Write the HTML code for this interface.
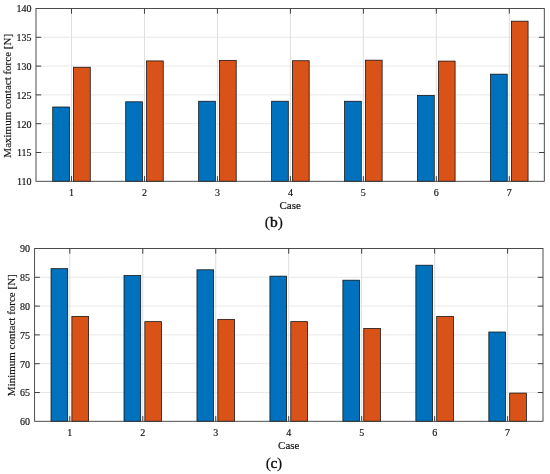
<!DOCTYPE html>
<html><head><meta charset="utf-8"><title>Contact force</title>
<style>
html,body{margin:0;padding:0;background:#fff;}
svg{display:block;}
text{font-family:"Liberation Serif","Times New Roman",serif;fill:#161616;stroke:#161616;stroke-width:0.18px;}
.t{font-size:10px;}
.l{font-size:11px;}
.c{font-size:15.5px;fill:#111;}
.c tspan{stroke:#111;stroke-width:0.45px;}
</style></head>
<body>
<svg width="550" height="474" viewBox="0 0 550 474">
<rect width="550" height="474" fill="#fff"/>
<path d="M71.50 8.50V181.30M144.47 8.50V181.30M217.43 8.50V181.30M290.40 8.50V181.30M363.37 8.50V181.30M436.33 8.50V181.30M509.30 8.50V181.30" stroke="#d6d6d6" stroke-width="0.8" fill="none"/>
<path d="M36.00 152.50H544.30M36.00 123.70H544.30M36.00 94.90H544.30M36.00 66.10H544.30M36.00 37.30H544.30" stroke="#e2e2e2" stroke-width="0.8" fill="none"/>
<rect x="52.73" y="107.00" width="16.68" height="74.30" fill="#0072bd" stroke="#0d0d0d" stroke-width="0.75"/>
<rect x="73.59" y="67.25" width="16.68" height="114.05" fill="#d95319" stroke="#0d0d0d" stroke-width="0.75"/>
<rect x="125.70" y="101.81" width="16.68" height="79.49" fill="#0072bd" stroke="#0d0d0d" stroke-width="0.75"/>
<rect x="146.55" y="60.92" width="16.68" height="120.38" fill="#d95319" stroke="#0d0d0d" stroke-width="0.75"/>
<rect x="198.67" y="101.24" width="16.68" height="80.06" fill="#0072bd" stroke="#0d0d0d" stroke-width="0.75"/>
<rect x="219.52" y="60.34" width="16.68" height="120.96" fill="#d95319" stroke="#0d0d0d" stroke-width="0.75"/>
<rect x="271.63" y="101.24" width="16.68" height="80.06" fill="#0072bd" stroke="#0d0d0d" stroke-width="0.75"/>
<rect x="292.49" y="60.74" width="16.68" height="120.56" fill="#d95319" stroke="#0d0d0d" stroke-width="0.75"/>
<rect x="344.60" y="101.24" width="16.68" height="80.06" fill="#0072bd" stroke="#0d0d0d" stroke-width="0.75"/>
<rect x="365.45" y="60.17" width="16.68" height="121.13" fill="#d95319" stroke="#0d0d0d" stroke-width="0.75"/>
<rect x="417.57" y="95.48" width="16.68" height="85.82" fill="#0072bd" stroke="#0d0d0d" stroke-width="0.75"/>
<rect x="438.42" y="61.09" width="16.68" height="120.21" fill="#d95319" stroke="#0d0d0d" stroke-width="0.75"/>
<rect x="490.53" y="74.16" width="16.68" height="107.14" fill="#0072bd" stroke="#0d0d0d" stroke-width="0.75"/>
<rect x="511.39" y="21.17" width="16.68" height="160.13" fill="#d95319" stroke="#0d0d0d" stroke-width="0.75"/>
<path d="M71.50 181.30v-5.2M71.50 8.50v5.2M144.47 181.30v-5.2M144.47 8.50v5.2M217.43 181.30v-5.2M217.43 8.50v5.2M290.40 181.30v-5.2M290.40 8.50v5.2M363.37 181.30v-5.2M363.37 8.50v5.2M436.33 181.30v-5.2M436.33 8.50v5.2M509.30 181.30v-5.2M509.30 8.50v5.2M36.00 152.50h5.2M544.30 152.50h-5.2M36.00 123.70h5.2M544.30 123.70h-5.2M36.00 94.90h5.2M544.30 94.90h-5.2M36.00 66.10h5.2M544.30 66.10h-5.2M36.00 37.30h5.2M544.30 37.30h-5.2" stroke="#222" stroke-width="0.85" fill="none"/>
<rect x="36.00" y="8.50" width="508.30" height="172.80" fill="none" stroke="#3a3a3a" stroke-width="0.9"/>
<text class="t" text-anchor="end" x="31.60" y="185.20">110</text>
<text class="t" text-anchor="end" x="31.60" y="156.40">115</text>
<text class="t" text-anchor="end" x="31.60" y="127.60">120</text>
<text class="t" text-anchor="end" x="31.60" y="98.80">125</text>
<text class="t" text-anchor="end" x="31.60" y="70.00">130</text>
<text class="t" text-anchor="end" x="31.60" y="41.20">135</text>
<text class="t" text-anchor="end" x="31.60" y="12.40">140</text>
<text class="t" text-anchor="middle" x="71.50" y="195.60">1</text>
<text class="t" text-anchor="middle" x="144.47" y="195.60">2</text>
<text class="t" text-anchor="middle" x="217.43" y="195.60">3</text>
<text class="t" text-anchor="middle" x="290.40" y="195.60">4</text>
<text class="t" text-anchor="middle" x="363.37" y="195.60">5</text>
<text class="t" text-anchor="middle" x="436.33" y="195.60">6</text>
<text class="t" text-anchor="middle" x="509.30" y="195.60">7</text>
<text class="l" text-anchor="middle" x="290.15" y="208.80">Case</text>
<text class="l" text-anchor="middle" transform="translate(11.30 95.80) rotate(-90)">Maximum contact force [N]</text>
<text class="c" text-anchor="middle" x="273.8" y="227.3">(<tspan>b</tspan>)</text>
<path d="M69.80 248.50V421.30M142.77 248.50V421.30M215.73 248.50V421.30M288.70 248.50V421.30M361.67 248.50V421.30M434.63 248.50V421.30M507.60 248.50V421.30" stroke="#d6d6d6" stroke-width="0.8" fill="none"/>
<path d="M34.60 392.50H543.00M34.60 363.70H543.00M34.60 334.90H543.00M34.60 306.10H543.00M34.60 277.30H543.00" stroke="#e2e2e2" stroke-width="0.8" fill="none"/>
<rect x="51.03" y="268.66" width="16.68" height="152.64" fill="#0072bd" stroke="#0d0d0d" stroke-width="0.75"/>
<rect x="71.89" y="316.47" width="16.68" height="104.83" fill="#d95319" stroke="#0d0d0d" stroke-width="0.75"/>
<rect x="124.00" y="275.57" width="16.68" height="145.73" fill="#0072bd" stroke="#0d0d0d" stroke-width="0.75"/>
<rect x="144.85" y="321.65" width="16.68" height="99.65" fill="#d95319" stroke="#0d0d0d" stroke-width="0.75"/>
<rect x="196.97" y="269.81" width="16.68" height="151.49" fill="#0072bd" stroke="#0d0d0d" stroke-width="0.75"/>
<rect x="217.82" y="319.35" width="16.68" height="101.95" fill="#d95319" stroke="#0d0d0d" stroke-width="0.75"/>
<rect x="269.93" y="276.15" width="16.68" height="145.15" fill="#0072bd" stroke="#0d0d0d" stroke-width="0.75"/>
<rect x="290.79" y="321.65" width="16.68" height="99.65" fill="#d95319" stroke="#0d0d0d" stroke-width="0.75"/>
<rect x="342.90" y="280.18" width="16.68" height="141.12" fill="#0072bd" stroke="#0d0d0d" stroke-width="0.75"/>
<rect x="363.75" y="328.45" width="16.68" height="92.85" fill="#d95319" stroke="#0d0d0d" stroke-width="0.75"/>
<rect x="415.87" y="265.20" width="16.68" height="156.10" fill="#0072bd" stroke="#0d0d0d" stroke-width="0.75"/>
<rect x="436.72" y="316.47" width="16.68" height="104.83" fill="#d95319" stroke="#0d0d0d" stroke-width="0.75"/>
<rect x="488.83" y="332.02" width="16.68" height="89.28" fill="#0072bd" stroke="#0d0d0d" stroke-width="0.75"/>
<rect x="509.69" y="393.08" width="16.68" height="28.22" fill="#d95319" stroke="#0d0d0d" stroke-width="0.75"/>
<path d="M69.80 421.30v-5.2M69.80 248.50v5.2M142.77 421.30v-5.2M142.77 248.50v5.2M215.73 421.30v-5.2M215.73 248.50v5.2M288.70 421.30v-5.2M288.70 248.50v5.2M361.67 421.30v-5.2M361.67 248.50v5.2M434.63 421.30v-5.2M434.63 248.50v5.2M507.60 421.30v-5.2M507.60 248.50v5.2M34.60 392.50h5.2M543.00 392.50h-5.2M34.60 363.70h5.2M543.00 363.70h-5.2M34.60 334.90h5.2M543.00 334.90h-5.2M34.60 306.10h5.2M543.00 306.10h-5.2M34.60 277.30h5.2M543.00 277.30h-5.2" stroke="#222" stroke-width="0.85" fill="none"/>
<rect x="34.60" y="248.50" width="508.40" height="172.80" fill="none" stroke="#3a3a3a" stroke-width="0.9"/>
<text class="t" text-anchor="end" x="29.90" y="425.10">60</text>
<text class="t" text-anchor="end" x="29.90" y="396.30">65</text>
<text class="t" text-anchor="end" x="29.90" y="367.50">70</text>
<text class="t" text-anchor="end" x="29.90" y="338.70">75</text>
<text class="t" text-anchor="end" x="29.90" y="309.90">80</text>
<text class="t" text-anchor="end" x="29.90" y="281.10">85</text>
<text class="t" text-anchor="end" x="29.90" y="252.30">90</text>
<text class="t" text-anchor="middle" x="69.80" y="435.60">1</text>
<text class="t" text-anchor="middle" x="142.77" y="435.60">2</text>
<text class="t" text-anchor="middle" x="215.73" y="435.60">3</text>
<text class="t" text-anchor="middle" x="288.70" y="435.60">4</text>
<text class="t" text-anchor="middle" x="361.67" y="435.60">5</text>
<text class="t" text-anchor="middle" x="434.63" y="435.60">6</text>
<text class="t" text-anchor="middle" x="507.60" y="435.60">7</text>
<text class="l" text-anchor="middle" x="288.80" y="448.80">Case</text>
<text class="l" text-anchor="middle" transform="translate(14.60 335.20) rotate(-90)">Minimum contact force [N]</text>
<text class="c" text-anchor="middle" style="letter-spacing:-0.5px" x="273.7" y="467.9">(<tspan>c</tspan>)</text>
</svg>
</body></html>
